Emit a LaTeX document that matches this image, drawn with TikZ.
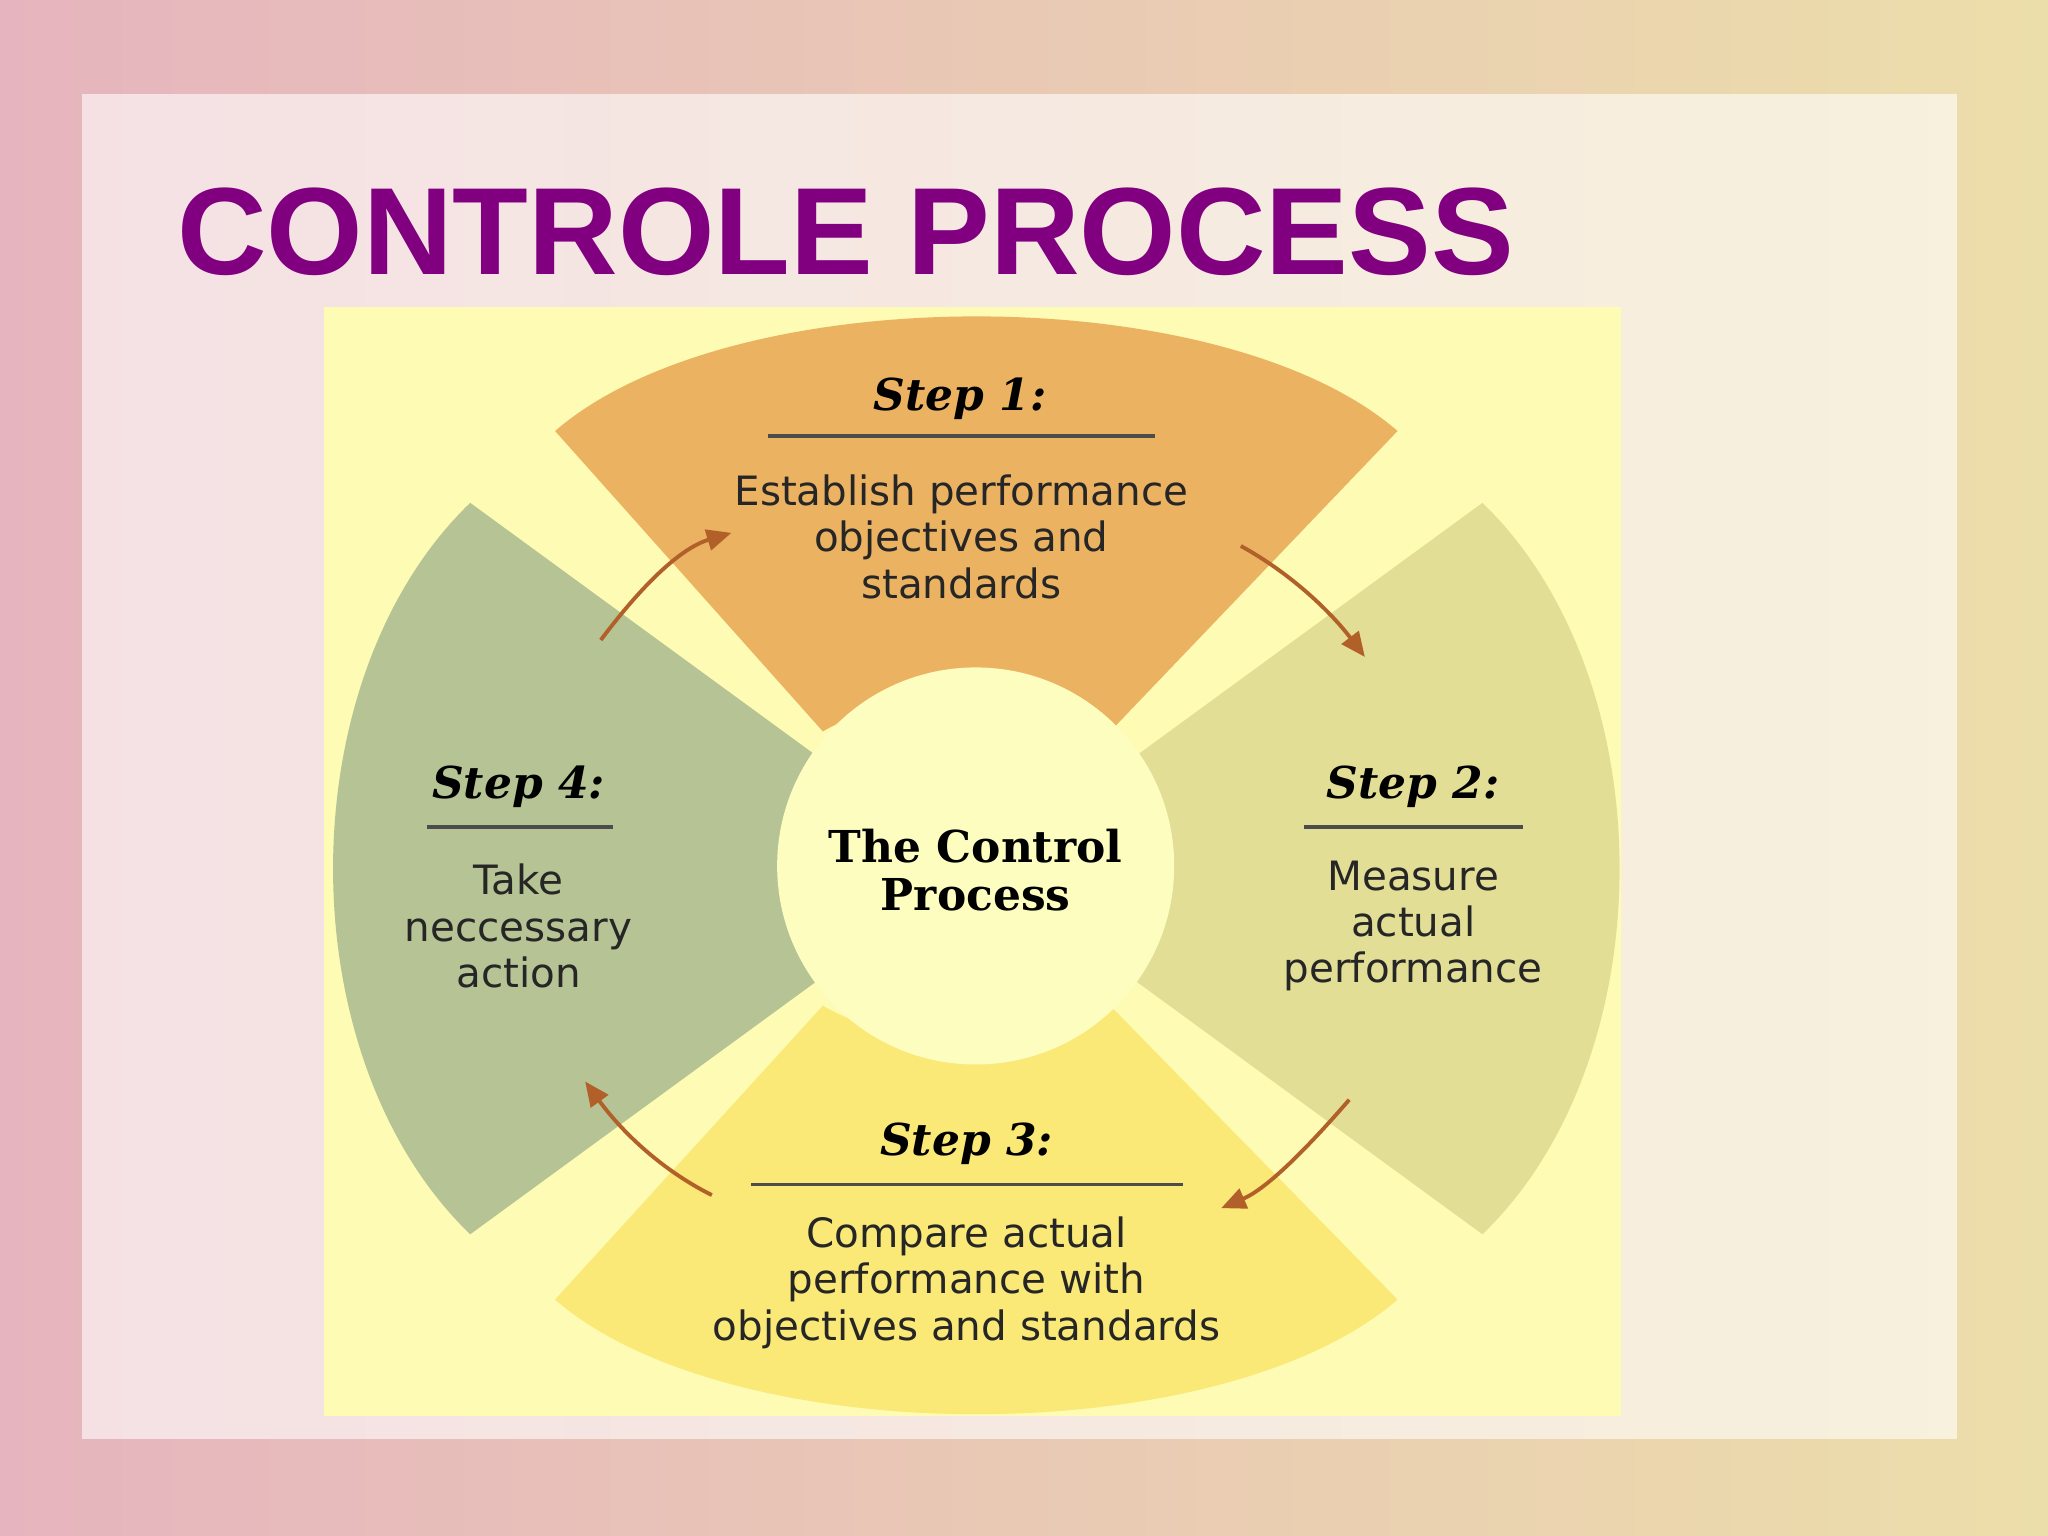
\documentclass[tikz,border=0pt]{standalone}
\usepackage{fontspec}
\setmainfont{DejaVu Serif}
\setsansfont{DejaVu Sans}
\newfontfamily\titlefont{Liberation Sans}
\usetikzlibrary{arrows.meta}
\definecolor{titlepurple}{HTML}{800080}
\definecolor{panelyellow}{HTML}{FDFBB4}
\definecolor{sorange}{HTML}{EBB262}
\definecolor{solive}{HTML}{E2DE96}
\definecolor{sgreen}{HTML}{B6C394}
\definecolor{syellow}{HTML}{FAE877}
\definecolor{arrbrown}{HTML}{B2602A}
\definecolor{innerc}{HTML}{FDFDC0}
\definecolor{bgpink}{HTML}{E6B4BE}
\definecolor{bgyel}{HTML}{ECDEAA}
\definecolor{bgmid}{HTML}{D4CCA8}
\tikzset{
  steplbl/.style={font=\fontsize{12.5}{14}\selectfont\bfseries\itshape},
  bodytxt/.style={font=\sffamily\fontsize{11.5}{13.2}\selectfont, align=center, text=black!85},
  rule/.style={line width=1pt, draw=black!70},
  cyc/.style={-{Triangle[length=7pt,width=6pt]}, line width=1.1pt, draw=arrbrown},
}
\begin{document}
\begin{tikzpicture}[x=0.013061cm,y=-0.013061cm]
\useasboundingbox (0,0) rectangle (1568,1176);
\shade[left color=bgpink, middle color=bgmid, right color=bgyel] (0,0) rectangle (1568,1176);
\fill[white, opacity=0.6] (63,72) rectangle (1498,1102);
\node[anchor=base west, inner sep=0, text=titlepurple, font=\titlefont\bfseries\fontsize{35.3}{38}\selectfont] (title) at (135,210) {CONTROLE PROCESS};
\fill[panelyellow] (248,235) rectangle (1241,1084);
% sectors
\fill[sorange] (630,560) -- (425,330) .. controls (560,213) and (935,213) .. (1070,330) -- (850,560) .. controls (790,525) and (690,525) .. cycle;
\fill[solive] (868,580) -- (1135,385) .. controls (1275,520) and (1275,810) .. (1135,945) -- (868,750) .. controls (905,690) and (905,640) .. cycle;
\fill[sgreen] (627,580) -- (360,385) .. controls (220,520) and (220,810) .. (360,945) -- (627,750) .. controls (590,690) and (590,640) .. cycle;
\fill[syellow] (630,770) -- (425,995) .. controls (560,1112) and (935,1112) .. (1070,995) -- (850,770) .. controls (790,805) and (690,805) .. cycle;
\fill[innerc] (747,663) circle (152);
\node[font=\fontsize{12.5}{13.6}\selectfont\bfseries, align=center] (center) at (747,666) {The Control\\Process};
% step 1
\node[steplbl] (s1) at (735,305) {Step 1:};
\draw[rule] (588,334) -- (884,334);
\node[bodytxt] (b1) at (736,411) {Establish performance\\objectives and\\standards};
% step 2
\node[steplbl] (s2) at (1082,602) {Step 2:};
\draw[rule] (998,633) -- (1166,633);
\node[bodytxt] (b2) at (1082,709) {Measure\\actual\\performance};
% step 3
\node[steplbl] (s3) at (740,876) {Step 3:};
\draw[rule] (575,907) -- (906,907);
\node[bodytxt] (b3) at (740,982) {Compare actual\\performance with\\objectives and standards};
% step 4
\node[steplbl] (s4) at (397,602) {Step 4:};
\draw[rule] (327,633) -- (469,633);
\node[bodytxt] (b4) at (397,709) {Take\\neccessary\\action};
% arrows
\coordinate (a1s) at (460,490); \coordinate (a1e) at (560,408);
\coordinate (a2s) at (950,418); \coordinate (a2e) at (1045,503);
\coordinate (a3s) at (1033,842); \coordinate (a3e) at (935,925);
\coordinate (a4s) at (545,915); \coordinate (a4e) at (448,828);
\draw[cyc] (a1s) .. controls (490,450) and (520,420) .. (a1e);
\draw[cyc] (a2s) .. controls (990,440) and (1020,470) .. (a2e);
\draw[cyc] (a3s) .. controls (1000,880) and (970,910) .. (a3e);
\draw[cyc] (a4s) .. controls (505,895) and (475,865) .. (a4e);
\end{tikzpicture}
\end{document}
